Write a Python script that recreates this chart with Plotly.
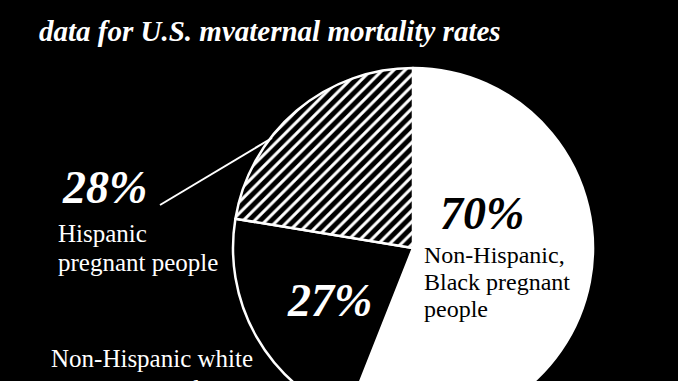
import plotly.graph_objects as go

# ---- data ----
labels = ["Non-Hispanic, Black pregnant people",
          "Non-Hispanic white pregnant people",
          "Hispanic pregnant people"]
values = [70, 27, 28]
pct_text = ["70%", "27%", "28%"]
fills = ["#ffffff", "#000000", "#000000"]
patterns = ["", "", "/"]
title_text = "data for U.S. mvaternal mortality rates"
desc_black = ["Non-Hispanic,", "Black pregnant", "people"]
desc_white = ["Non-Hispanic white", "pregnant people"]
desc_hisp = ["Hispanic", "pregnant people"]

W, H = 678, 428  # figure taller than the 381 viewport: pie is cropped at bottom


def px(x):
    return x / W


def py(y):
    return (H - y) / H


SERIF = "Liberation Serif, Times New Roman, serif"

fig = go.Figure(go.Pie(
    labels=labels, values=values, sort=False,
    direction="clockwise", rotation=0,
    marker=dict(colors=fills, line=dict(color="white", width=2.5),
                pattern=dict(shape=patterns, fgcolor="white", size=8, solidity=0.38)),
    textinfo="none", hoverinfo="label+value", showlegend=False,
    domain=dict(x=[px(233), px(593)], y=[py(428), py(68)]),
))

ann = []


def add(x, y, text, size, color, xanchor="center"):
    ann.append(dict(x=px(x), y=py(y), xref="paper", yref="paper",
                    xanchor=xanchor, yanchor="middle", showarrow=False,
                    text=text, font=dict(family=SERIF, size=size, color=color)))


# title
add(37, 31, "<b><i>" + title_text + "</i></b>", 29, "white", "left")
# percentages
add(482, 213, "<b><i>" + pct_text[0] + "</i></b>", 46, "black")
add(329, 300, "<b><i>" + pct_text[1] + "</i></b>", 46, "white")
add(104, 187, "<b><i>" + pct_text[2] + "</i></b>", 46, "white")
# descriptions (baseline -> centre offset ~0.32em)
for i, line in enumerate(desc_black):
    add(422, 255 + i * 27, line, 24, "black", "left")
for i, line in enumerate(desc_hisp):
    add(56, 233 + i * 30, line, 25, "white", "left")
for i, line in enumerate(desc_white):
    add(49, 358 + i * 30, line, 25, "white", "left")

fig.update_layout(
    width=W, height=H,
    margin=dict(l=0, r=0, t=0, b=0),
    paper_bgcolor="black", plot_bgcolor="black",
    annotations=ann,
    shapes=[dict(type="line", xref="paper", yref="paper",
                 x0=px(160), y0=py(205), x1=px(272), y1=py(138),
                 line=dict(color="white", width=2))],
)

fig.write_html("out.html", config={"displayModeBar": False}, post_script=(
    "document.body.style.margin='0';"
    "document.body.style.background='black';"
    "document.body.style.overflow='hidden';"
    "document.documentElement.style.overflow='hidden';"
))
